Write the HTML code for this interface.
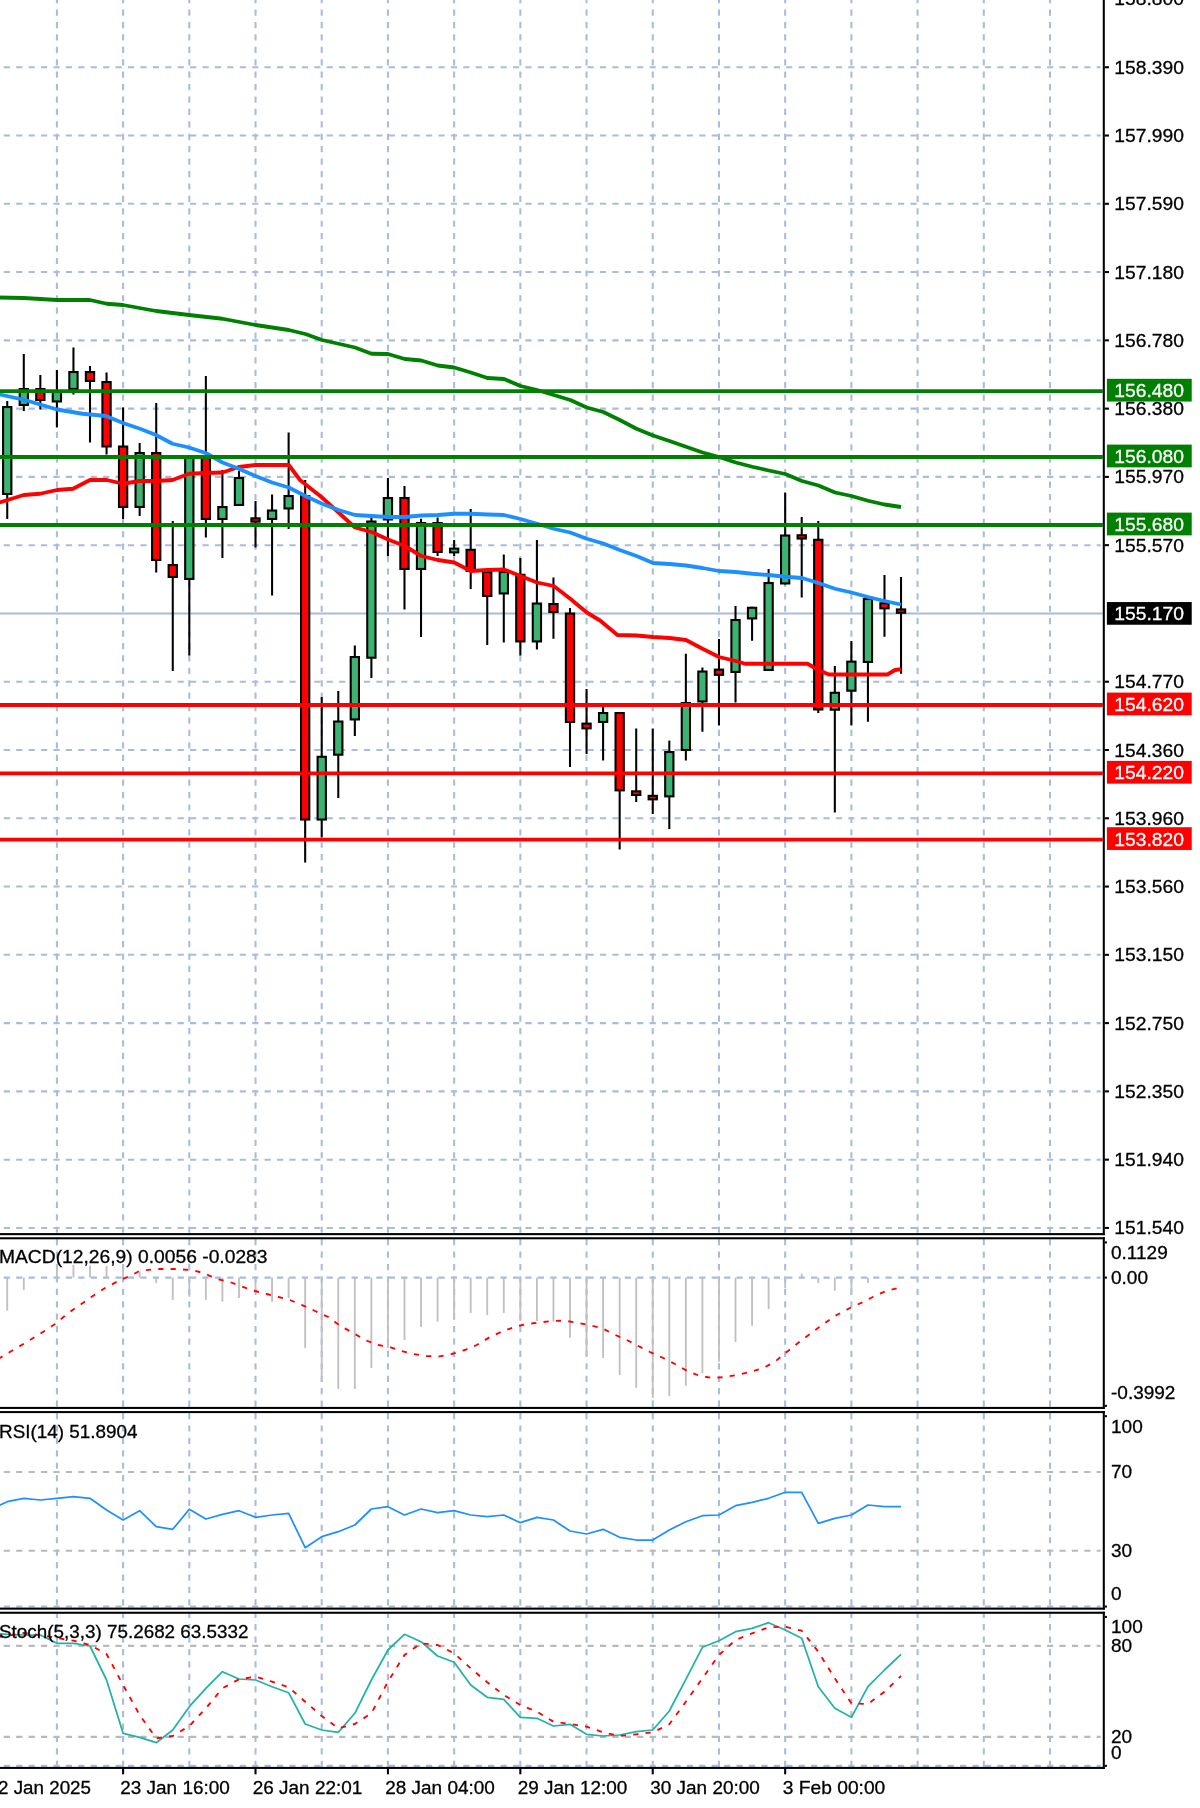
<!DOCTYPE html>
<html lang="en">
<head>
<meta charset="utf-8">
<title>USDJPY chart</title>
<style>html,body{margin:0;padding:0;background:#fff;}body{width:1200px;height:1808px;overflow:hidden;}svg{display:block;}text{white-space:pre;}</style>
</head>
<body>
<svg width="1200" height="1808" viewBox="0 0 1200 1808" font-family="'Liberation Sans', sans-serif" font-size="19.0">
<defs><filter id="soft" x="0" y="0" width="1200" height="1808" filterUnits="userSpaceOnUse"><feGaussianBlur stdDeviation="0.5"/></filter></defs>
<rect width="1200" height="1808" fill="#fff"/>
<g filter="url(#soft)">
<rect width="1200" height="1808" fill="#fff"/>
<g stroke="#a9bcdb" stroke-width="2.07" fill="none">
<path d="M0 67.24 H1100.69" stroke-dasharray="6.21 6.21" stroke-dashoffset="-3.74"/>
<path d="M0 135.52 H1100.69" stroke-dasharray="6.21 6.21" stroke-dashoffset="-3.74"/>
<path d="M0 203.79 H1100.69" stroke-dasharray="6.21 6.21" stroke-dashoffset="-3.74"/>
<path d="M0 272.07 H1100.69" stroke-dasharray="6.21 6.21" stroke-dashoffset="-3.74"/>
<path d="M0 340.34 H1100.69" stroke-dasharray="6.21 6.21" stroke-dashoffset="-3.74"/>
<path d="M0 408.62 H1100.69" stroke-dasharray="6.21 6.21" stroke-dashoffset="-3.74"/>
<path d="M0 476.9 H1100.69" stroke-dasharray="6.21 6.21" stroke-dashoffset="-3.74"/>
<path d="M0 545.17 H1100.69" stroke-dasharray="6.21 6.21" stroke-dashoffset="-3.74"/>
<path d="M0 681.72 H1100.69" stroke-dasharray="6.21 6.21" stroke-dashoffset="-3.74"/>
<path d="M0 750 H1100.69" stroke-dasharray="6.21 6.21" stroke-dashoffset="-3.74"/>
<path d="M0 818.28 H1100.69" stroke-dasharray="6.21 6.21" stroke-dashoffset="-3.74"/>
<path d="M0 886.55 H1100.69" stroke-dasharray="6.21 6.21" stroke-dashoffset="-3.74"/>
<path d="M0 954.83 H1100.69" stroke-dasharray="6.21 6.21" stroke-dashoffset="-3.74"/>
<path d="M0 1023.1 H1100.69" stroke-dasharray="6.21 6.21" stroke-dashoffset="-3.74"/>
<path d="M0 1091.38 H1100.69" stroke-dasharray="6.21 6.21" stroke-dashoffset="-3.74"/>
<path d="M0 1159.66 H1100.69" stroke-dasharray="6.21 6.21" stroke-dashoffset="-3.74"/>
<path d="M0 1227.93 H1100.69" stroke-dasharray="6.21 6.21" stroke-dashoffset="-3.74"/>
<path d="M0 1277.59 H1100.69" stroke-dasharray="6.21 6.21" stroke-dashoffset="-3.74"/>
<path d="M0 1606.55 H1100.69" stroke-dasharray="6.21 6.21" stroke-dashoffset="-3.74"/>
<path d="M0 1765.86 H1100.69" stroke-dasharray="6.21 6.21" stroke-dashoffset="-3.74"/>
<path d="M56.9 0 V1233.1" stroke-dasharray="6.21 6.21" stroke-dashoffset="2.92"/>
<path d="M56.9 1239.31 V1406.9" stroke-dasharray="6.21 6.21" stroke-dashoffset="1242.23"/>
<path d="M56.9 1413.1 V1607.59" stroke-dasharray="6.21 6.21" stroke-dashoffset="1416.02"/>
<path d="M56.9 1613.79 V1766.9" stroke-dasharray="6.21 6.21" stroke-dashoffset="1616.71"/>
<path d="M123.1 0 V1233.1" stroke-dasharray="6.21 6.21" stroke-dashoffset="2.92"/>
<path d="M123.1 1239.31 V1406.9" stroke-dasharray="6.21 6.21" stroke-dashoffset="1242.23"/>
<path d="M123.1 1413.1 V1607.59" stroke-dasharray="6.21 6.21" stroke-dashoffset="1416.02"/>
<path d="M123.1 1613.79 V1766.9" stroke-dasharray="6.21 6.21" stroke-dashoffset="1616.71"/>
<path d="M189.31 0 V1233.1" stroke-dasharray="6.21 6.21" stroke-dashoffset="2.92"/>
<path d="M189.31 1239.31 V1406.9" stroke-dasharray="6.21 6.21" stroke-dashoffset="1242.23"/>
<path d="M189.31 1413.1 V1607.59" stroke-dasharray="6.21 6.21" stroke-dashoffset="1416.02"/>
<path d="M189.31 1613.79 V1766.9" stroke-dasharray="6.21 6.21" stroke-dashoffset="1616.71"/>
<path d="M255.52 0 V1233.1" stroke-dasharray="6.21 6.21" stroke-dashoffset="2.92"/>
<path d="M255.52 1239.31 V1406.9" stroke-dasharray="6.21 6.21" stroke-dashoffset="1242.23"/>
<path d="M255.52 1413.1 V1607.59" stroke-dasharray="6.21 6.21" stroke-dashoffset="1416.02"/>
<path d="M255.52 1613.79 V1766.9" stroke-dasharray="6.21 6.21" stroke-dashoffset="1616.71"/>
<path d="M321.72 0 V1233.1" stroke-dasharray="6.21 6.21" stroke-dashoffset="2.92"/>
<path d="M321.72 1239.31 V1406.9" stroke-dasharray="6.21 6.21" stroke-dashoffset="1242.23"/>
<path d="M321.72 1413.1 V1607.59" stroke-dasharray="6.21 6.21" stroke-dashoffset="1416.02"/>
<path d="M321.72 1613.79 V1766.9" stroke-dasharray="6.21 6.21" stroke-dashoffset="1616.71"/>
<path d="M387.93 0 V1233.1" stroke-dasharray="6.21 6.21" stroke-dashoffset="2.92"/>
<path d="M387.93 1239.31 V1406.9" stroke-dasharray="6.21 6.21" stroke-dashoffset="1242.23"/>
<path d="M387.93 1413.1 V1607.59" stroke-dasharray="6.21 6.21" stroke-dashoffset="1416.02"/>
<path d="M387.93 1613.79 V1766.9" stroke-dasharray="6.21 6.21" stroke-dashoffset="1616.71"/>
<path d="M454.14 0 V1233.1" stroke-dasharray="6.21 6.21" stroke-dashoffset="2.92"/>
<path d="M454.14 1239.31 V1406.9" stroke-dasharray="6.21 6.21" stroke-dashoffset="1242.23"/>
<path d="M454.14 1413.1 V1607.59" stroke-dasharray="6.21 6.21" stroke-dashoffset="1416.02"/>
<path d="M454.14 1613.79 V1766.9" stroke-dasharray="6.21 6.21" stroke-dashoffset="1616.71"/>
<path d="M520.34 0 V1233.1" stroke-dasharray="6.21 6.21" stroke-dashoffset="2.92"/>
<path d="M520.34 1239.31 V1406.9" stroke-dasharray="6.21 6.21" stroke-dashoffset="1242.23"/>
<path d="M520.34 1413.1 V1607.59" stroke-dasharray="6.21 6.21" stroke-dashoffset="1416.02"/>
<path d="M520.34 1613.79 V1766.9" stroke-dasharray="6.21 6.21" stroke-dashoffset="1616.71"/>
<path d="M586.55 0 V1233.1" stroke-dasharray="6.21 6.21" stroke-dashoffset="2.92"/>
<path d="M586.55 1239.31 V1406.9" stroke-dasharray="6.21 6.21" stroke-dashoffset="1242.23"/>
<path d="M586.55 1413.1 V1607.59" stroke-dasharray="6.21 6.21" stroke-dashoffset="1416.02"/>
<path d="M586.55 1613.79 V1766.9" stroke-dasharray="6.21 6.21" stroke-dashoffset="1616.71"/>
<path d="M652.76 0 V1233.1" stroke-dasharray="6.21 6.21" stroke-dashoffset="2.92"/>
<path d="M652.76 1239.31 V1406.9" stroke-dasharray="6.21 6.21" stroke-dashoffset="1242.23"/>
<path d="M652.76 1413.1 V1607.59" stroke-dasharray="6.21 6.21" stroke-dashoffset="1416.02"/>
<path d="M652.76 1613.79 V1766.9" stroke-dasharray="6.21 6.21" stroke-dashoffset="1616.71"/>
<path d="M718.97 0 V1233.1" stroke-dasharray="6.21 6.21" stroke-dashoffset="2.92"/>
<path d="M718.97 1239.31 V1406.9" stroke-dasharray="6.21 6.21" stroke-dashoffset="1242.23"/>
<path d="M718.97 1413.1 V1607.59" stroke-dasharray="6.21 6.21" stroke-dashoffset="1416.02"/>
<path d="M718.97 1613.79 V1766.9" stroke-dasharray="6.21 6.21" stroke-dashoffset="1616.71"/>
<path d="M785.17 0 V1233.1" stroke-dasharray="6.21 6.21" stroke-dashoffset="2.92"/>
<path d="M785.17 1239.31 V1406.9" stroke-dasharray="6.21 6.21" stroke-dashoffset="1242.23"/>
<path d="M785.17 1413.1 V1607.59" stroke-dasharray="6.21 6.21" stroke-dashoffset="1416.02"/>
<path d="M785.17 1613.79 V1766.9" stroke-dasharray="6.21 6.21" stroke-dashoffset="1616.71"/>
<path d="M851.38 0 V1233.1" stroke-dasharray="6.21 6.21" stroke-dashoffset="2.92"/>
<path d="M851.38 1239.31 V1406.9" stroke-dasharray="6.21 6.21" stroke-dashoffset="1242.23"/>
<path d="M851.38 1413.1 V1607.59" stroke-dasharray="6.21 6.21" stroke-dashoffset="1416.02"/>
<path d="M851.38 1613.79 V1766.9" stroke-dasharray="6.21 6.21" stroke-dashoffset="1616.71"/>
<path d="M917.59 0 V1233.1" stroke-dasharray="6.21 6.21" stroke-dashoffset="2.92"/>
<path d="M917.59 1239.31 V1406.9" stroke-dasharray="6.21 6.21" stroke-dashoffset="1242.23"/>
<path d="M917.59 1413.1 V1607.59" stroke-dasharray="6.21 6.21" stroke-dashoffset="1416.02"/>
<path d="M917.59 1613.79 V1766.9" stroke-dasharray="6.21 6.21" stroke-dashoffset="1616.71"/>
<path d="M983.79 0 V1233.1" stroke-dasharray="6.21 6.21" stroke-dashoffset="2.92"/>
<path d="M983.79 1239.31 V1406.9" stroke-dasharray="6.21 6.21" stroke-dashoffset="1242.23"/>
<path d="M983.79 1413.1 V1607.59" stroke-dasharray="6.21 6.21" stroke-dashoffset="1416.02"/>
<path d="M983.79 1613.79 V1766.9" stroke-dasharray="6.21 6.21" stroke-dashoffset="1616.71"/>
<path d="M1050 0 V1233.1" stroke-dasharray="6.21 6.21" stroke-dashoffset="2.92"/>
<path d="M1050 1239.31 V1406.9" stroke-dasharray="6.21 6.21" stroke-dashoffset="1242.23"/>
<path d="M1050 1413.1 V1607.59" stroke-dasharray="6.21 6.21" stroke-dashoffset="1416.02"/>
<path d="M1050 1613.79 V1766.9" stroke-dasharray="6.21 6.21" stroke-dashoffset="1616.71"/>
</g>
<g stroke="#b9b9b9" stroke-width="2.07" fill="none">
<path d="M0 1472.07 H1100.69" stroke-dasharray="6.21 6.21" stroke-dashoffset="-3.74"/>
<path d="M0 1550.69 H1100.69" stroke-dasharray="6.21 6.21" stroke-dashoffset="-3.74"/>
<path d="M0 1645.86 H1100.69" stroke-dasharray="6.21 6.21" stroke-dashoffset="-3.74"/>
<path d="M0 1736.9 H1100.69" stroke-dasharray="6.21 6.21" stroke-dashoffset="-3.74"/>
</g>
<path d="M0 613.45 H1102.76" stroke="#abbad6" stroke-width="1.86"/>
<g stroke="#000" stroke-width="2.07">
<path d="M7.24 401 V519"/>
<path d="M23.79 354 V411"/>
<path d="M40.34 375 V409.5"/>
<path d="M56.9 370 V427.5"/>
<path d="M73.45 347.5 V394.5"/>
<path d="M90 366 V442.5"/>
<path d="M106.55 372.5 V454.5"/>
<path d="M123.1 407.5 V519"/>
<path d="M139.66 443 V516"/>
<path d="M156.21 403 V572.5"/>
<path d="M172.76 521 V671"/>
<path d="M189.31 457 V655.5"/>
<path d="M205.86 376 V537.5"/>
<path d="M222.41 470 V558"/>
<path d="M238.97 471 V506"/>
<path d="M255.52 501 V547.5"/>
<path d="M272.07 494.5 V595.5"/>
<path d="M288.62 432.5 V529"/>
<path d="M305.17 480 V862.6"/>
<path d="M321.72 697 V837.5"/>
<path d="M338.28 691 V798"/>
<path d="M354.83 645.5 V736"/>
<path d="M371.38 516 V678"/>
<path d="M387.93 478 V556"/>
<path d="M404.48 486 V609.5"/>
<path d="M421.03 518.75 V637"/>
<path d="M437.59 517.5 V556"/>
<path d="M454.14 540 V556"/>
<path d="M470.69 509 V589"/>
<path d="M487.24 571 V645"/>
<path d="M503.79 554.5 V642.5"/>
<path d="M520.34 558 V655.5"/>
<path d="M536.9 540 V649.5"/>
<path d="M553.45 577.5 V638.75"/>
<path d="M570 608 V767"/>
<path d="M586.55 689 V754"/>
<path d="M603.1 707 V760.5"/>
<path d="M619.66 712 V849.5"/>
<path d="M636.21 728.5 V802"/>
<path d="M652.76 728.5 V814"/>
<path d="M669.31 740.6 V829"/>
<path d="M685.86 653.75 V760.5"/>
<path d="M702.41 667.5 V731.75"/>
<path d="M718.97 639 V725.5"/>
<path d="M735.52 606 V702.5"/>
<path d="M752.07 606.75 V640.75"/>
<path d="M768.62 569 V671"/>
<path d="M785.17 492.5 V584.5"/>
<path d="M801.72 517 V597.5"/>
<path d="M818.28 521 V713"/>
<path d="M834.83 666 V812.5"/>
<path d="M851.38 641 V725.5"/>
<path d="M867.93 598 V721.75"/>
<path d="M884.48 575 V636.75"/>
<path d="M901.03 577 V673.75"/>
</g>
<g stroke="#000" stroke-width="2.07">
<rect x="3.1" y="407.03" width="8.28" height="86.93" fill="#3cb371"/>
<rect x="19.66" y="389.03" width="8.28" height="15.93" fill="#3cb371"/>
<rect x="36.21" y="389.03" width="8.28" height="10.93" fill="#ff0000"/>
<rect x="52.76" y="392.03" width="8.28" height="9.43" fill="#3cb371"/>
<rect x="69.31" y="372.03" width="8.28" height="16.93" fill="#3cb371"/>
<rect x="85.86" y="372.03" width="8.28" height="8.93" fill="#ff0000"/>
<rect x="102.41" y="382.03" width="8.28" height="64.43" fill="#ff0000"/>
<rect x="118.97" y="446.53" width="8.28" height="60.43" fill="#ff0000"/>
<rect x="135.52" y="453.03" width="8.28" height="53.93" fill="#3cb371"/>
<rect x="152.07" y="453.03" width="8.28" height="106.93" fill="#ff0000"/>
<rect x="168.62" y="565.03" width="8.28" height="11.93" fill="#ff0000"/>
<rect x="185.17" y="458.03" width="8.28" height="120.93" fill="#3cb371"/>
<rect x="201.72" y="458.03" width="8.28" height="60.93" fill="#ff0000"/>
<rect x="218.28" y="507.03" width="8.28" height="11.93" fill="#3cb371"/>
<rect x="234.83" y="478.03" width="8.28" height="26.93" fill="#3cb371"/>
<rect x="251.38" y="518.33" width="8.28" height="3.33" fill="#ff0000"/>
<rect x="267.93" y="510.53" width="8.28" height="8.43" fill="#3cb371"/>
<rect x="284.48" y="496.03" width="8.28" height="12.43" fill="#3cb371"/>
<rect x="301.03" y="496.03" width="8.28" height="323.53" fill="#ff0000"/>
<rect x="317.59" y="756.78" width="8.28" height="62.78" fill="#3cb371"/>
<rect x="334.14" y="721.53" width="8.28" height="33.18" fill="#3cb371"/>
<rect x="350.69" y="657.03" width="8.28" height="62.43" fill="#3cb371"/>
<rect x="367.24" y="521.53" width="8.28" height="136.18" fill="#3cb371"/>
<rect x="383.79" y="498.03" width="8.28" height="21.43" fill="#3cb371"/>
<rect x="400.34" y="498.03" width="8.28" height="70.93" fill="#ff0000"/>
<rect x="416.9" y="523.03" width="8.28" height="45.93" fill="#3cb371"/>
<rect x="433.45" y="523.03" width="8.28" height="28.93" fill="#ff0000"/>
<rect x="450" y="548.63" width="8.28" height="3.73" fill="#3cb371"/>
<rect x="466.55" y="549.78" width="8.28" height="21.18" fill="#ff0000"/>
<rect x="483.1" y="572.03" width="8.28" height="23.93" fill="#ff0000"/>
<rect x="499.66" y="572.03" width="8.28" height="21.43" fill="#3cb371"/>
<rect x="516.21" y="574.78" width="8.28" height="66.68" fill="#ff0000"/>
<rect x="532.76" y="603.53" width="8.28" height="37.93" fill="#3cb371"/>
<rect x="549.31" y="604.03" width="8.28" height="7.93" fill="#ff0000"/>
<rect x="565.86" y="613.53" width="8.28" height="108.43" fill="#ff0000"/>
<rect x="582.41" y="723.63" width="8.28" height="4.73" fill="#ff0000"/>
<rect x="598.97" y="713.03" width="8.28" height="8.93" fill="#3cb371"/>
<rect x="615.52" y="713.03" width="8.28" height="77.33" fill="#ff0000"/>
<rect x="632.07" y="791.33" width="8.28" height="3.63" fill="#ff0000"/>
<rect x="648.62" y="795.83" width="8.28" height="3.53" fill="#ff0000"/>
<rect x="665.17" y="752.03" width="8.28" height="44.33" fill="#3cb371"/>
<rect x="681.72" y="703.03" width="8.28" height="46.93" fill="#3cb371"/>
<rect x="698.28" y="671.53" width="8.28" height="29.93" fill="#3cb371"/>
<rect x="714.83" y="669.63" width="8.28" height="5.23" fill="#ff0000"/>
<rect x="731.38" y="620.03" width="8.28" height="51.93" fill="#3cb371"/>
<rect x="747.93" y="607.78" width="8.28" height="10.68" fill="#3cb371"/>
<rect x="764.48" y="583.03" width="8.28" height="86.93" fill="#3cb371"/>
<rect x="781.03" y="535.53" width="8.28" height="47.93" fill="#3cb371"/>
<rect x="797.59" y="535.23" width="8.28" height="3.33" fill="#ff0000"/>
<rect x="814.14" y="539.78" width="8.28" height="169.68" fill="#ff0000"/>
<rect x="830.69" y="692.78" width="8.28" height="16.93" fill="#3cb371"/>
<rect x="847.24" y="661.63" width="8.28" height="29.08" fill="#3cb371"/>
<rect x="863.79" y="599.03" width="8.28" height="62.93" fill="#3cb371"/>
<rect x="880.34" y="603.23" width="8.28" height="5.13" fill="#ff0000"/>
<rect x="896.9" y="609.43" width="8.28" height="3.33" fill="#ff0000"/>
</g>
<polyline points="-2,297.5 23.8,298 57,300 90,300 106.75,303.75 123,305 156,311 189,315 222.5,318.75 255.5,325 288.75,330 305.4,334 322,340 338.5,343.75 355,347.5 371.5,353.75 388,354 404.75,359 421.25,360.5 437.75,365.5 454.25,367.5 470.75,372.5 487.5,378 504,379 520.5,386 537,390 553.75,395 570.25,400 586.75,407.5 603.3,412 619.75,420 636.5,428.75 653,435.5 669.5,441 686,446.75 702.5,452.5 719,457 735.75,462.5 752.25,466.75 768.75,470.5 785.25,474 802,481 818.5,485.5 835,492.5 851.5,496 868,500.75 884.5,504.5 901,507" fill="none" stroke="#008000" stroke-width="3.81" stroke-linejoin="round"/>
<polyline points="-2,503 23.75,495 40,493.75 57,490 73,488.75 90,480 106.75,480 123,483.75 139.5,481 156,481 172.5,480 189,473.75 205.75,473 222.5,472.5 238.75,467 255.5,465 272,465 288.75,465 300,480 322,497.5 338.5,512.5 355,527.5 371.5,532 388,539.5 404.75,546 421.25,556 437.75,560 454.25,562.5 470.75,571 487.5,570 504,569.5 520.5,576 537,582.5 553.75,586 570.25,598.75 586.75,612.5 600,620.5 617.5,635 636.5,635.5 653,637 669.5,638 686,640 702.5,648.75 719,657 735.75,661 745,663.75 807.5,663.75 818.5,670 828.75,674.5 887.5,674.5 895,670 901,669.25" fill="none" stroke="#ff0000" stroke-width="3.81" stroke-linejoin="round"/>
<polyline points="-2,394 25,400 57,409.5 82.5,413.75 106,416 123,423 140,428.75 156,435 172.5,443.75 189,447.5 205.75,453 222.5,462.5 238.75,468.75 255.5,476 272,482.5 288.75,487.5 305.4,496 322,503.75 338.5,510 355,515 371.5,516 388,517 404.75,517 421.25,515.5 437.75,515 454.25,513.75 470.75,513.75 487.5,514.5 504,515 520.5,519 537,523.75 553.75,528.75 570.25,532.5 586.75,538.75 603.3,543.5 619.75,550 636.5,556 653,563 669.5,564 686,565.5 702.5,568 719,571 735.75,572 752.25,573.75 768.75,575 785.25,576.75 802,578 818.5,583 835,588.75 851.5,592.5 868,597 884.5,601 901,604.5" fill="none" stroke="#1e90ff" stroke-width="3.81" stroke-linejoin="round"/>
<path d="M0 391.2 H1102.76" stroke="#008000" stroke-width="3.81"/>
<path d="M0 457 H1102.76" stroke="#008000" stroke-width="3.81"/>
<path d="M0 525 H1102.76" stroke="#008000" stroke-width="3.81"/>
<path d="M0 705 H1102.76" stroke="#ff0000" stroke-width="3.81"/>
<path d="M0 773.3 H1102.76" stroke="#ff0000" stroke-width="3.81"/>
<path d="M0 839.6 H1102.76" stroke="#ff0000" stroke-width="3.81"/>
<g stroke="#c0c0c0" stroke-width="1.86">
<path d="M7.24 1277.59 V1310.7"/>
<path d="M23.79 1277.59 V1290"/>
<path d="M56.9 1277.59 V1265"/>
<path d="M73.45 1277.59 V1265"/>
<path d="M90 1277.59 V1265.5"/>
<path d="M106.55 1277.59 V1266"/>
<path d="M123.1 1277.59 V1267"/>
<path d="M139.66 1277.59 V1271.7"/>
<path d="M156.21 1277.59 V1283"/>
<path d="M172.76 1277.59 V1300"/>
<path d="M189.31 1277.59 V1296.7"/>
<path d="M205.86 1277.59 V1300"/>
<path d="M222.41 1277.59 V1301.7"/>
<path d="M238.97 1277.59 V1298"/>
<path d="M255.52 1277.59 V1293"/>
<path d="M272.07 1277.59 V1301.7"/>
<path d="M288.62 1277.59 V1298"/>
<path d="M305.17 1277.59 V1348"/>
<path d="M321.72 1277.59 V1381.7"/>
<path d="M338.28 1277.59 V1389"/>
<path d="M354.83 1277.59 V1389"/>
<path d="M371.38 1277.59 V1368"/>
<path d="M387.93 1277.59 V1348"/>
<path d="M404.48 1277.59 V1340"/>
<path d="M421.03 1277.59 V1327"/>
<path d="M437.59 1277.59 V1321.7"/>
<path d="M454.14 1277.59 V1316.7"/>
<path d="M470.69 1277.59 V1313"/>
<path d="M487.24 1277.59 V1315"/>
<path d="M503.79 1277.59 V1313"/>
<path d="M520.34 1277.59 V1321"/>
<path d="M536.9 1277.59 V1321"/>
<path d="M553.45 1277.59 V1321.7"/>
<path d="M570 1277.59 V1337.7"/>
<path d="M586.55 1277.59 V1355"/>
<path d="M603.1 1277.59 V1358"/>
<path d="M619.66 1277.59 V1375"/>
<path d="M636.21 1277.59 V1387.7"/>
<path d="M652.76 1277.59 V1398"/>
<path d="M669.31 1277.59 V1396"/>
<path d="M685.86 1277.59 V1385.7"/>
<path d="M702.41 1277.59 V1373"/>
<path d="M718.97 1277.59 V1361.7"/>
<path d="M735.52 1277.59 V1342"/>
<path d="M752.07 1277.59 V1325.7"/>
<path d="M768.62 1277.59 V1309"/>
<path d="M785.17 1277.59 V1288"/>
<path d="M801.72 1277.59 V1273.5"/>
<path d="M818.28 1277.59 V1283"/>
<path d="M834.83 1277.59 V1290.7"/>
<path d="M851.38 1277.59 V1292.7"/>
<path d="M867.93 1277.59 V1283"/>
</g>
<polyline points="-2,1359 16.7,1348 30,1340 43.3,1331.7 55,1324 68.3,1313 80,1305 91.7,1296.7 105,1288 118.3,1281 130,1276 140,1270.7 156.7,1269 173.3,1269 191.7,1270 203.3,1273 216.7,1279 230,1282 240,1286 255,1291 266.7,1294 278.3,1297 290,1300 303.3,1305.7 315,1311 328.3,1317 340,1325.7 353.3,1333 365,1340 378.3,1345 390,1347 400,1350.7 413.3,1354 426.7,1356 438.3,1356.7 451.7,1354 465,1350 476.7,1345 490,1337 501.7,1331.7 515,1326.7 526.7,1324 538.3,1322.7 551.7,1321 565,1320.7 576.7,1322.7 588.3,1325 601.7,1328 613.3,1334 626.7,1340 638.3,1346 650,1352 663.3,1358 675,1364 686.7,1370.7 700,1376 713.3,1378 725,1377 736.7,1375 750,1372 763.3,1368 775,1361.7 786.7,1352 798.3,1342.7 811.7,1332.7 823.3,1324 836.7,1315 850,1308 861.7,1302.7 873.3,1296.7 886.7,1290.7 901,1287.3" fill="none" stroke="#ff0000" stroke-width="1.85" stroke-linejoin="round" stroke-dasharray="5.2 7.2"/>
<polyline points="-2,1506 7.24,1501.7 23.79,1498.3 40.34,1500 56.9,1498.3 73.45,1496.7 90,1498.3 106.55,1510 123.1,1520 139.66,1510.7 156.21,1526.7 172.76,1529.3 189.31,1509.3 205.86,1519 222.41,1514.3 238.97,1510.7 255.52,1517.3 272.07,1515 288.62,1513.3 305.17,1547.7 321.72,1536.7 338.28,1531.7 354.83,1525 371.38,1509 387.93,1506.7 404.48,1515 421.03,1509 437.59,1512.7 454.14,1510.7 470.69,1515 487.24,1516.7 503.79,1515 520.34,1522.7 536.9,1517.3 553.45,1520 570,1531 586.55,1534 603.1,1529.3 619.66,1537.3 636.21,1540 652.76,1540 669.31,1530 685.86,1521.7 702.41,1515.7 718.97,1515 735.52,1505.7 752.07,1502.3 768.62,1498.3 785.17,1492.3 801.72,1492.3 818.28,1523.3 834.83,1518.3 851.38,1515 867.93,1505 884.48,1506.7 901.03,1506.7" fill="none" stroke="#1e90ff" stroke-width="1.75" stroke-linejoin="round"/>
<polyline points="-2,1633.5 7.24,1634.3 23.79,1635 40.34,1635 56.9,1643.3 73.45,1643.3 90,1646 106.55,1680 123.1,1733.3 139.66,1737.3 156.21,1742.7 172.76,1730 189.31,1706.7 205.86,1688.3 222.41,1671.7 238.97,1679 255.52,1680 272.07,1686.7 288.62,1692.7 305.17,1724 321.72,1730 338.28,1732.3 354.83,1713.3 371.38,1680 387.93,1650 404.48,1634.3 421.03,1641.7 437.59,1656 454.14,1662.3 470.69,1685 487.24,1697.3 503.79,1699.3 520.34,1717.3 536.9,1718.3 553.45,1726 570,1724.3 586.55,1734.3 603.1,1736 619.66,1735 636.21,1731.7 652.76,1730 669.31,1711 685.86,1679.3 702.41,1647.3 718.97,1640.7 735.52,1631.7 752.07,1628.3 768.62,1622.7 785.17,1630 801.72,1638.3 818.28,1686.7 834.83,1708.3 851.38,1717.3 867.93,1686.7 884.48,1670 901.03,1654.3" fill="none" stroke="#20b2aa" stroke-width="1.75" stroke-linejoin="round"/>
<polyline points="-2,1637 7.24,1636 23.79,1633 40.34,1635 56.9,1638 73.45,1640.7 90,1645 106.55,1654 123.1,1685 139.66,1715 156.21,1738.3 172.76,1736 189.31,1726 205.86,1708.3 222.41,1688.3 238.97,1679.3 255.52,1676.7 272.07,1681.7 288.62,1687.3 305.17,1701.7 321.72,1716 338.28,1728.3 354.83,1724 371.38,1713.3 387.93,1681.7 404.48,1655 421.03,1643.3 437.59,1645 454.14,1653.3 470.69,1668.3 487.24,1682.3 503.79,1695 520.34,1705 536.9,1711.7 553.45,1721.7 570,1724 586.55,1726.7 603.1,1732.3 619.66,1736 636.21,1734.3 652.76,1732.3 669.31,1724.3 685.86,1701.7 702.41,1678.3 718.97,1655 735.52,1640 752.07,1633.3 768.62,1627.3 785.17,1626.7 801.72,1630.7 818.28,1651.7 834.83,1678.3 851.38,1703.3 867.93,1704 884.48,1691.7 901.03,1676" fill="none" stroke="#ff0000" stroke-width="1.85" stroke-linejoin="round" stroke-dasharray="5.2 7.2"/>
<g fill="#000">
<rect x="1102.76" y="0" width="2.07" height="1235.17"/>
<rect x="0" y="1233.1" width="1104.83" height="2.07"/>
<rect x="0" y="1237.24" width="1104.83" height="2.07"/>
<rect x="1102.76" y="1237.24" width="2.07" height="171.72"/>
<rect x="0" y="1406.9" width="1104.83" height="2.07"/>
<rect x="1104.83" y="1241.38" width="2.07" height="2.07"/>
<rect x="1104.83" y="1404.83" width="2.07" height="2.07"/>
<rect x="0" y="1411.03" width="1104.83" height="2.07"/>
<rect x="1102.76" y="1411.03" width="2.07" height="198.62"/>
<rect x="0" y="1607.59" width="1104.83" height="2.07"/>
<rect x="1104.83" y="1415.17" width="2.07" height="2.07"/>
<rect x="1104.83" y="1605.52" width="2.07" height="2.07"/>
<rect x="0" y="1611.72" width="1104.83" height="2.07"/>
<rect x="1102.76" y="1611.72" width="2.07" height="157.24"/>
<rect x="0" y="1766.9" width="1104.83" height="2.07"/>
<rect x="1104.83" y="1615.86" width="2.07" height="2.07"/>
<rect x="1104.83" y="1764.83" width="2.07" height="2.07"/>
<rect x="1104.83" y="66.21" width="4.14" height="2.07"/>
<rect x="1104.83" y="134.48" width="4.14" height="2.07"/>
<rect x="1104.83" y="202.76" width="4.14" height="2.07"/>
<rect x="1104.83" y="271.03" width="4.14" height="2.07"/>
<rect x="1104.83" y="339.31" width="4.14" height="2.07"/>
<rect x="1104.83" y="407.59" width="4.14" height="2.07"/>
<rect x="1104.83" y="475.86" width="4.14" height="2.07"/>
<rect x="1104.83" y="544.14" width="4.14" height="2.07"/>
<rect x="1104.83" y="680.69" width="4.14" height="2.07"/>
<rect x="1104.83" y="748.97" width="4.14" height="2.07"/>
<rect x="1104.83" y="817.24" width="4.14" height="2.07"/>
<rect x="1104.83" y="885.52" width="4.14" height="2.07"/>
<rect x="1104.83" y="953.79" width="4.14" height="2.07"/>
<rect x="1104.83" y="1022.07" width="4.14" height="2.07"/>
<rect x="1104.83" y="1090.34" width="4.14" height="2.07"/>
<rect x="1104.83" y="1158.62" width="4.14" height="2.07"/>
<rect x="1104.83" y="1226.9" width="4.14" height="2.07"/>
<rect x="1104.83" y="1276.55" width="2.07" height="2.07"/>
<rect x="122.07" y="1768.97" width="2.07" height="5.38"/>
<rect x="254.48" y="1768.97" width="2.07" height="5.38"/>
<rect x="386.9" y="1768.97" width="2.07" height="5.38"/>
<rect x="519.31" y="1768.97" width="2.07" height="5.38"/>
<rect x="651.72" y="1768.97" width="2.07" height="5.38"/>
<rect x="784.14" y="1768.97" width="2.07" height="5.38"/>
</g>
<text x="1114.3" y="5.47" fill="#000" stroke="#000" stroke-width="0.3" textLength="69.6" lengthAdjust="spacingAndGlyphs">158.800</text>
<text x="1114.3" y="73.74" fill="#000" stroke="#000" stroke-width="0.3" textLength="69.6" lengthAdjust="spacingAndGlyphs">158.390</text>
<text x="1114.3" y="142.02" fill="#000" stroke="#000" stroke-width="0.3" textLength="69.6" lengthAdjust="spacingAndGlyphs">157.990</text>
<text x="1114.3" y="210.29" fill="#000" stroke="#000" stroke-width="0.3" textLength="69.6" lengthAdjust="spacingAndGlyphs">157.590</text>
<text x="1114.3" y="278.57" fill="#000" stroke="#000" stroke-width="0.3" textLength="69.6" lengthAdjust="spacingAndGlyphs">157.180</text>
<text x="1114.3" y="346.84" fill="#000" stroke="#000" stroke-width="0.3" textLength="69.6" lengthAdjust="spacingAndGlyphs">156.780</text>
<text x="1114.3" y="415.12" fill="#000" stroke="#000" stroke-width="0.3" textLength="69.6" lengthAdjust="spacingAndGlyphs">156.380</text>
<text x="1114.3" y="483.4" fill="#000" stroke="#000" stroke-width="0.3" textLength="69.6" lengthAdjust="spacingAndGlyphs">155.970</text>
<text x="1114.3" y="551.67" fill="#000" stroke="#000" stroke-width="0.3" textLength="69.6" lengthAdjust="spacingAndGlyphs">155.570</text>
<text x="1114.3" y="688.22" fill="#000" stroke="#000" stroke-width="0.3" textLength="69.6" lengthAdjust="spacingAndGlyphs">154.770</text>
<text x="1114.3" y="756.5" fill="#000" stroke="#000" stroke-width="0.3" textLength="69.6" lengthAdjust="spacingAndGlyphs">154.360</text>
<text x="1114.3" y="824.78" fill="#000" stroke="#000" stroke-width="0.3" textLength="69.6" lengthAdjust="spacingAndGlyphs">153.960</text>
<text x="1114.3" y="893.05" fill="#000" stroke="#000" stroke-width="0.3" textLength="69.6" lengthAdjust="spacingAndGlyphs">153.560</text>
<text x="1114.3" y="961.33" fill="#000" stroke="#000" stroke-width="0.3" textLength="69.6" lengthAdjust="spacingAndGlyphs">153.150</text>
<text x="1114.3" y="1029.6" fill="#000" stroke="#000" stroke-width="0.3" textLength="69.6" lengthAdjust="spacingAndGlyphs">152.750</text>
<text x="1114.3" y="1097.88" fill="#000" stroke="#000" stroke-width="0.3" textLength="69.6" lengthAdjust="spacingAndGlyphs">152.350</text>
<text x="1114.3" y="1166.16" fill="#000" stroke="#000" stroke-width="0.3" textLength="69.6" lengthAdjust="spacingAndGlyphs">151.940</text>
<text x="1114.3" y="1234.43" fill="#000" stroke="#000" stroke-width="0.3" textLength="69.6" lengthAdjust="spacingAndGlyphs">151.540</text>
<rect x="1106.9" y="378.8" width="84.83" height="22.76" fill="#008000"/>
<text x="1114.3" y="397.1" fill="#fff" stroke="#fff" stroke-width="0.3" textLength="69.6" lengthAdjust="spacingAndGlyphs">156.480</text>
<rect x="1106.9" y="444.6" width="84.83" height="22.76" fill="#008000"/>
<text x="1114.3" y="462.9" fill="#fff" stroke="#fff" stroke-width="0.3" textLength="69.6" lengthAdjust="spacingAndGlyphs">156.080</text>
<rect x="1106.9" y="512.6" width="84.83" height="22.76" fill="#008000"/>
<text x="1114.3" y="530.9" fill="#fff" stroke="#fff" stroke-width="0.3" textLength="69.6" lengthAdjust="spacingAndGlyphs">155.680</text>
<rect x="1106.9" y="692.6" width="84.83" height="22.76" fill="#ff0000"/>
<text x="1114.3" y="710.9" fill="#fff" stroke="#fff" stroke-width="0.3" textLength="69.6" lengthAdjust="spacingAndGlyphs">154.620</text>
<rect x="1106.9" y="760.9" width="84.83" height="22.76" fill="#ff0000"/>
<text x="1114.3" y="779.2" fill="#fff" stroke="#fff" stroke-width="0.3" textLength="69.6" lengthAdjust="spacingAndGlyphs">154.220</text>
<rect x="1106.9" y="827.2" width="84.83" height="22.76" fill="#ff0000"/>
<text x="1114.3" y="845.5" fill="#fff" stroke="#fff" stroke-width="0.3" textLength="69.6" lengthAdjust="spacingAndGlyphs">153.820</text>
<rect x="1106.9" y="602.05" width="84.83" height="22.7" fill="#000"/>
<text x="1114.3" y="619.85" fill="#fff" stroke="#fff" stroke-width="0.3" textLength="69.6" lengthAdjust="spacingAndGlyphs">155.170</text>
<text x="1111" y="1259" fill="#000" stroke="#000" stroke-width="0.3">0.1129</text>
<text x="1111" y="1283.75" fill="#000" stroke="#000" stroke-width="0.3">0.00</text>
<text x="1111" y="1399" fill="#000" stroke="#000" stroke-width="0.3">-0.3992</text>
<text x="1111" y="1432.75" fill="#000" stroke="#000" stroke-width="0.3">100</text>
<text x="1111" y="1478.35" fill="#000" stroke="#000" stroke-width="0.3">70</text>
<text x="1111" y="1556.75" fill="#000" stroke="#000" stroke-width="0.3">30</text>
<text x="1111" y="1600" fill="#000" stroke="#000" stroke-width="0.3">0</text>
<text x="1111" y="1632.75" fill="#000" stroke="#000" stroke-width="0.3">100</text>
<text x="1111" y="1652" fill="#000" stroke="#000" stroke-width="0.3">80</text>
<text x="1111" y="1742.75" fill="#000" stroke="#000" stroke-width="0.3">20</text>
<text x="1111" y="1759.35" fill="#000" stroke="#000" stroke-width="0.3">0</text>
<text x="-1" y="1263" fill="#000" stroke="#000" stroke-width="0.3" textLength="268.5" lengthAdjust="spacingAndGlyphs">MACD(12,26,9) 0.0056 -0.0283</text>
<text x="-1" y="1437.5" fill="#000" stroke="#000" stroke-width="0.3" textLength="138.5" lengthAdjust="spacingAndGlyphs">RSI(14) 51.8904</text>
<text x="-1" y="1637.6" fill="#000" stroke="#000" stroke-width="0.3" textLength="249.5" lengthAdjust="spacingAndGlyphs">Stoch(5,3,3) 75.2682 63.5332</text>
<text x="-12.5" y="1794" fill="#000" stroke="#000" stroke-width="0.3" textLength="103.5" lengthAdjust="spacingAndGlyphs">22 Jan 2025</text>
<text x="120.3" y="1794" fill="#000" stroke="#000" stroke-width="0.3" textLength="109.5" lengthAdjust="spacingAndGlyphs">23 Jan 16:00</text>
<text x="252.8" y="1794" fill="#000" stroke="#000" stroke-width="0.3" textLength="109.5" lengthAdjust="spacingAndGlyphs">26 Jan 22:01</text>
<text x="385.3" y="1794" fill="#000" stroke="#000" stroke-width="0.3" textLength="109.5" lengthAdjust="spacingAndGlyphs">28 Jan 04:00</text>
<text x="517.8" y="1794" fill="#000" stroke="#000" stroke-width="0.3" textLength="109.5" lengthAdjust="spacingAndGlyphs">29 Jan 12:00</text>
<text x="650.3" y="1794" fill="#000" stroke="#000" stroke-width="0.3" textLength="109.5" lengthAdjust="spacingAndGlyphs">30 Jan 20:00</text>
<text x="782.8" y="1794" fill="#000" stroke="#000" stroke-width="0.3" textLength="102.5" lengthAdjust="spacingAndGlyphs">3 Feb 00:00</text>
</g>
</svg>
</body>
</html>
